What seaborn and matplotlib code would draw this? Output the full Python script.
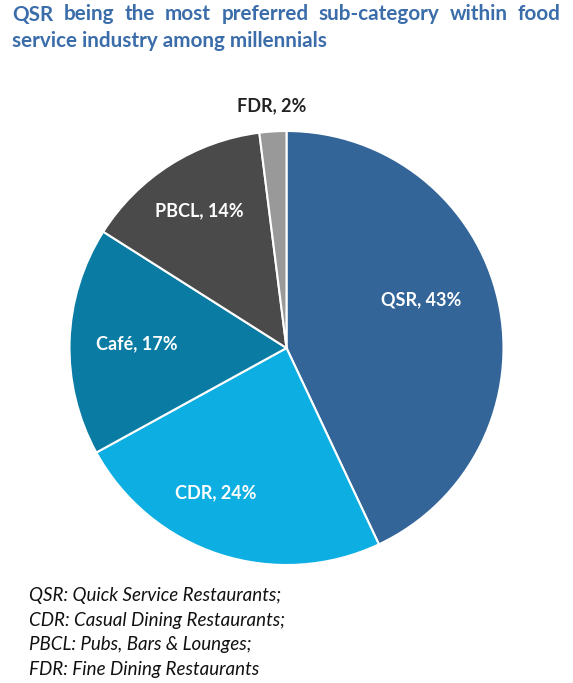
import numpy as np
import matplotlib
matplotlib.use("Agg")
import matplotlib.pyplot as plt
import seaborn as sns

# data
categories = ["QSR", "CDR", "Café", "PBCL", "FDR"]
shares = [43, 24, 17, 14, 2]
colors = ["#336598", "#0DAEE2", "#0A7CA3", "#4A4A4A", "#999999"]
label_colors = ["white", "white", "white", "white", "#222222"]
label_dist = [0.66, 0.74, 0.69, 0.75, 1.12]
label_shift = [7, -8, 0, 0, 0]  # degrees, nudge label along the arc

footnotes = [
    "QSR: Quick Service Restaurants;",
    "CDR: Casual Dining Restaurants;",
    "PBCL: Pubs, Bars & Lounges;",
    "FDR: Fine Dining Restaurants",
]
title_lines = [
    "QSR being the most preferred sub-category within food",
    "service industry among millennials",
]

sns.set_theme(style="white")
plt.rcParams["font.family"] = ["Lato", "DejaVu Sans"]

W, H = 573, 683
fig = plt.figure(figsize=(W / 100, H / 100), dpi=100)

cx, cy, r = 286.5, 348, 217
ax = fig.add_axes([(cx - r) / W, 1 - (cy + r) / H, 2 * r / W, 2 * r / H])

wedges, _ = ax.pie(
    shares,
    colors=colors,
    startangle=90,
    counterclock=False,
    wedgeprops=dict(edgecolor="white", linewidth=1.5),
)
ax.set_xlim(-1, 1)
ax.set_ylim(-1, 1)
ax.set_aspect("equal")
ax.axis("off")

for w, name, val, d, s, c in zip(wedges, categories, shares, label_dist, label_shift, label_colors):
    mid = np.deg2rad((w.theta1 + w.theta2) / 2 + s)
    ax.text(d * np.cos(mid), d * np.sin(mid), f"{name}, {val}%",
            ha="center", va="center", color=c, fontsize=13, fontweight="bold")

# title: first line justified across the width, second line left aligned
title_kw = dict(ha="left", va="baseline", color="#3B6DAA", fontsize=14.9, fontweight="bold")
renderer = fig.canvas.get_renderer()
words = title_lines[0].split()
left, right = 12, 561
texts = [fig.text(0, 1 - 20.5 / H, wd, **title_kw) for wd in words]
widths = [t.get_window_extent(renderer).width for t in texts]
gap = (right - left - sum(widths)) / (len(words) - 1)
x = left
for t, wdt in zip(texts, widths):
    t.set_x(x / W)
    x += wdt + gap
fig.text(left / W, 1 - 46.7 / H, title_lines[1], **title_kw)

for i, line in enumerate(footnotes):
    fig.text(29 / W, 1 - (601 + i * 24.6) / H, line, ha="left", va="baseline",
             fontsize=13.5, fontstyle="italic", color="#111111")

fig.savefig("out.png", dpi=100)
